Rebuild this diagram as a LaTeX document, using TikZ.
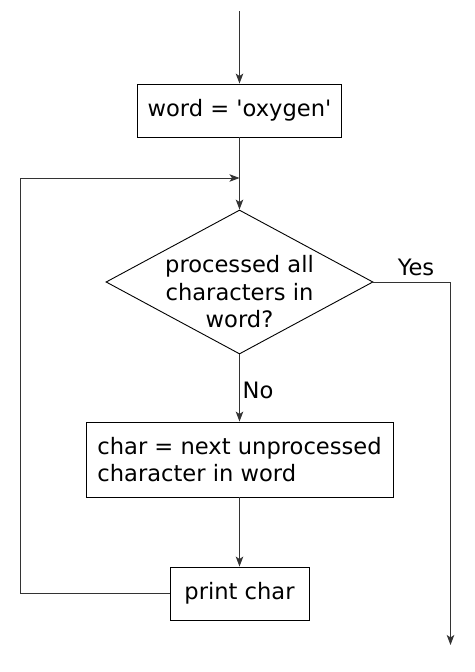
\documentclass[tikz,border=0pt]{standalone}
\usepackage{fontspec}
\setmainfont{DejaVu Sans}
\usetikzlibrary{arrows.meta,shapes.geometric}
\newcommand\flowfont{\fontsize{22.6}{27.5}\selectfont}
\begin{document}
\begin{tikzpicture}[x=1pt,y=-1pt,
  box/.style={draw=black,line width=0.9pt,inner sep=0pt,font=\flowfont},
  lbl/.style={inner sep=0pt,font=\flowfont},
  arr/.style={draw=black!80,line width=0.9pt,-{Stealth[length=10pt,width=7.5pt,inset=2.5pt]}},
  ln/.style={draw=black!80,line width=0.9pt}]
\useasboundingbox (0,0) rectangle (474,672);
\coordinate (start) at (239.5,11);
\node[box,minimum width=204pt,minimum height=53pt] (b1) at (239.5,110.5) {word = \textquotesingle oxygen\textquotesingle};
\node[box,shape=diamond,minimum width=267pt,minimum height=144pt] (d) at (239.5,282) {};
\node[lbl,align=center,anchor=center] (dt) at (239.5,292) {processed all\\characters in\\word?};
\node[box,minimum width=307pt,minimum height=75pt,align=left] (b2) at (239.5,459.5) {char = next unprocessed\\character in word};
\node[box,minimum width=139pt,minimum height=53pt] (p) at (239.5,593.5) {print char};
\coordinate (j) at (239.5,178);
\coordinate (lc) at (20,178);
\coordinate (yc) at (450.5,282);
\coordinate (yend) at (450.5,645);
\draw[arr] (start) -- (b1);
\draw[arr] (b1) -- (d.north);
\draw[arr] (p.west) -| (lc) -- (j);
\draw[arr] (d.south) -- (b2);
\node[lbl] (no) at (258,390) {No};
\draw[arr] (d.east) -- (yc) -- (yend);
\node[lbl] (yes) at (416,267) {Yes};
\draw[arr] (b2) -- (p);
\end{tikzpicture}
\end{document}
